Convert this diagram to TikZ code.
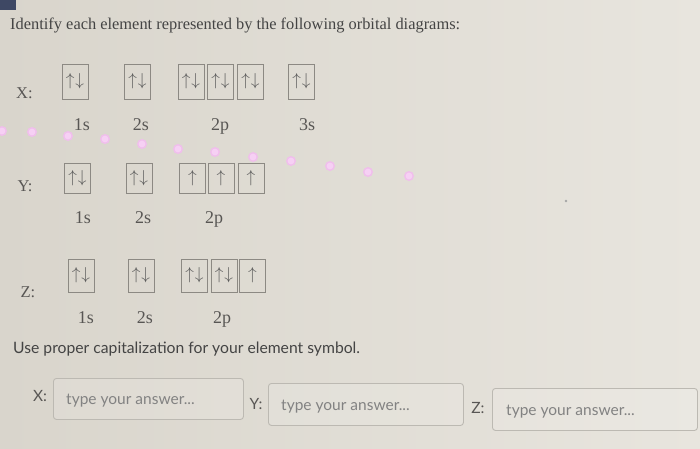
\documentclass[tikz,border=0pt]{standalone}
\usepackage{fontspec}
\setmainfont{Liberation Serif}
\newfontfamily\latofont{Lato}
\definecolor{bgA}{RGB}{217,213,204}
\definecolor{bgB}{RGB}{232,229,222}
\definecolor{txt}{RGB}{68,68,68}
\definecolor{lbl}{RGB}{88,86,84}
\definecolor{orbline}{RGB}{140,137,131}
\definecolor{arr}{RGB}{90,90,90}
\definecolor{inbox}{RGB}{188,185,178}
\definecolor{hint}{RGB}{130,130,130}
\definecolor{pinkdot}{RGB}{240,190,236}
\definecolor{pinkcore}{RGB}{246,208,244}
\definecolor{corner}{RGB}{62,72,100}
\newcommand{\ud}{$\uparrow\mkern1mu\downarrow$}
\newcommand{\uo}{$\uparrow$}
\begin{document}
\begin{tikzpicture}[x=1pt,y=-1pt,
  orb/.style={draw=orbline, line width=0.9pt, minimum width=26pt, inner sep=0pt,
    font=\fontsize{16.5}{16.5}\selectfont, text=arr},
  sublab/.style={anchor=base, inner sep=0pt, font=\fontsize{18}{18}\selectfont, text=lbl},
  rowlab/.style={anchor=base, inner sep=0pt, font=\fontsize{16.5}{16.5}\selectfont, text=lbl},
  inputbox/.style={draw=inbox, line width=0.9pt, rounded corners=3pt, fill=white, fill opacity=0.12,
    anchor=north west, inner sep=0pt},
  hinttext/.style={anchor=base west, inner sep=0pt, font=\latofont\fontsize{15.5}{15.5}\selectfont, text=hint},
  anslab/.style={anchor=base, inner sep=0pt, font=\latofont\fontsize{15.5}{15.5}\selectfont, text=lbl},
  dot/.style={fill=pinkdot, draw=none}
]
\useasboundingbox (0,0) rectangle (700,448);
\shade[left color=bgA, right color=bgB] (0,0) rectangle (700,448);
\fill[corner] (0,0) rectangle (16,10);

% pink reflections
\foreach \px/\py in {2/131, 32/132, 68/136, 105/139, 142/144, 178/149, 215/152, 253/157, 291/161, 330/166, 368/172, 409/176}{
  \fill[dot] (\px,\py) circle[radius=5pt];
  \fill[pinkcore] (\px,\py) circle[radius=3.4pt];
}
\fill[gray!70] (566,201) circle[radius=1.3pt];

% title
\node[anchor=base west, inner sep=0pt, font=\fontsize{16.4}{18}\selectfont, text=txt] (title) at (10,29)
  {Identify each element represented by the following orbital diagrams:};

% X row
\node[rowlab] (xlab) at (24.5,98) {X:};
\node[orb, minimum height=35pt] (x1s) at (75,81.5) {\ud};
\node[orb, minimum height=35pt] (x2s) at (137.5,81.5) {\ud};
\node[orb, minimum height=35pt] (x2pa) at (191,81.5) {\ud};
\node[orb, minimum height=35pt] (x2pb) at (220.5,81.5) {\ud};
\node[orb, minimum height=35pt] (x2pc) at (250.5,81.5) {\ud};
\node[orb, minimum height=35pt] (x3s) at (301.5,81.5) {\ud};
\node[sublab] (x1sl) at (82,130) {1s};
\node[sublab] (x2sl) at (141,130) {2s};
\node[sublab] (x2pl) at (220,130) {2p};
\node[sublab] (x3sl) at (307,130) {3s};

% Y row
\node[rowlab] (ylab) at (25,191) {Y:};
\node[orb, minimum height=30pt] (y1s) at (77.5,178) {\ud};
\node[orb, minimum height=30pt] (y2s) at (139,178) {\ud};
\node[orb, minimum height=30pt] (y2pa) at (192.5,178) {\uo};
\node[orb, minimum height=30pt] (y2pb) at (221,178) {\uo};
\node[orb, minimum height=30pt] (y2pc) at (251,178) {\uo};
\node[sublab] (y1sl) at (83,223) {1s};
\node[sublab] (y2sl) at (143,223) {2s};
\node[sublab] (y2pl) at (214,223) {2p};

% Z row
\node[rowlab] (zlab) at (28,297) {Z:};
\node[orb, minimum height=33pt] (z1s) at (81,275.5) {\ud};
\node[orb, minimum height=33pt] (z2s) at (141,275.5) {\ud};
\node[orb, minimum height=33pt] (z2pa) at (194.5,275.5) {\ud};
\node[orb, minimum height=33pt] (z2pb) at (224,275.5) {\ud};
\node[orb, minimum height=33pt] (z2pc) at (252.5,275.5) {\uo};
\node[sublab] (z1sl) at (86,323) {1s};
\node[sublab] (z2sl) at (145,323) {2s};
\node[sublab] (z2pl) at (222,323) {2p};

% instruction
\node[anchor=base west, inner sep=0pt, font=\latofont\fontsize{15.7}{18}\selectfont, text=txt] (note) at (13,353)
  {Use proper capitalization for your element symbol.};

% answer fields
\node[anslab] (ansx) at (40,401) {X:};
\node[inputbox, minimum width=190pt, minimum height=41pt] (boxx) at (53,378) {};
\node[hinttext] (hintx) at (66,404) {type your answer...};

\node[anslab] (ansy) at (256,409) {Y:};
\node[inputbox, minimum width=195pt, minimum height=42pt] (boxy) at (268,383) {};
\node[hinttext] (hinty) at (281,410) {type your answer...};

\node[anslab] (ansz) at (478,413) {Z:};
\node[inputbox, minimum width=205pt, minimum height=42pt] (boxz) at (492,388) {};
\node[hinttext] (hintz) at (506,415) {type your answer...};
\end{tikzpicture}
\end{document}
